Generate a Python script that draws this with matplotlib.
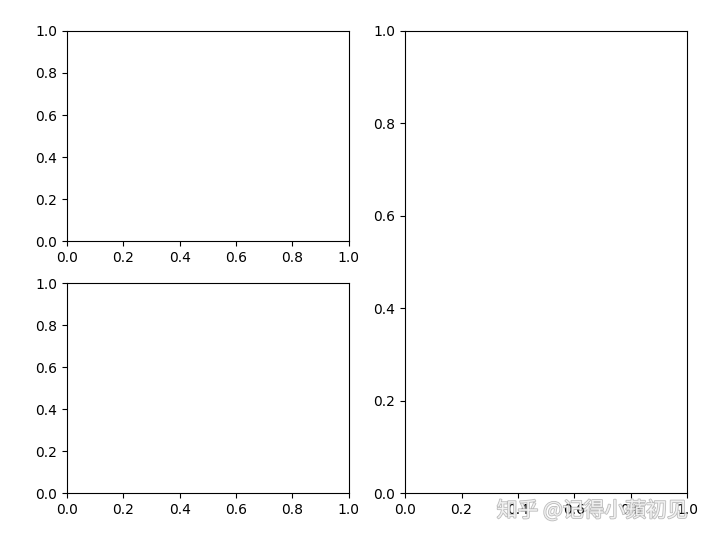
from matplotlib import pyplot as plt
import matplotlib.patheffects as pe

# three empty subplots: two stacked on the left, one tall on the right
layout = [(2, 2, 1), (2, 2, 3), (1, 2, 2)]
watermark = '知乎 @记得小蘋初见'

plt.rcParams['font.family'] = ['Noto Sans CJK SC', 'DejaVu Sans']

fig = plt.figure(figsize=(7.12, 5.4), dpi=100)
for rows, cols, idx in layout:
    ax = fig.add_subplot(rows, cols, idx)
    for lab in ax.get_xticklabels() + ax.get_yticklabels():
        lab.set_fontfamily('DejaVu Sans')
plt.subplots_adjust(left=0.0941, right=0.9649, bottom=0.087, top=0.9426,
                    wspace=0.2, hspace=0.2)

fig.text(0.832, 0.054, watermark, ha='center', va='center', fontsize=15,
         color='white', alpha=0.8,
         path_effects=[pe.withStroke(linewidth=1.2, foreground='#aaaaaa')])

plt.savefig('out.png', dpi=100)
